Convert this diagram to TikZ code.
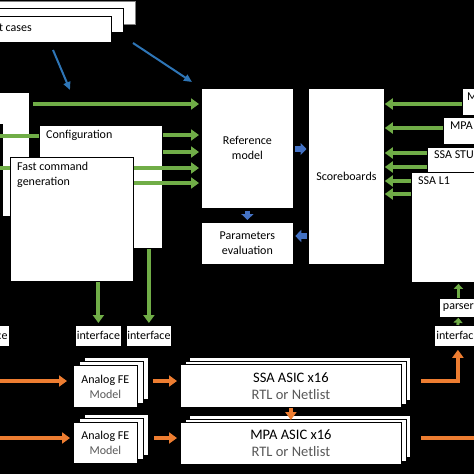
\documentclass[tikz,border=0pt]{standalone}
\usepackage{fontspec}
\setmainfont{Carlito}
\usetikzlibrary{arrows.meta}
\definecolor{cg}{RGB}{112,173,71}
\definecolor{co}{RGB}{237,125,49}
\definecolor{cb}{RGB}{68,114,196}
\definecolor{ct}{RGB}{46,117,182}
\definecolor{tg}{RGB}{89,89,89}

\begin{document}
\begin{tikzpicture}[
    x=1pt, y=-1pt,
    every node/.style={
        font=\fontsize{12}{15}\selectfont
    },
    box/.style={
        draw=black, fill=white, line width=0.8pt,
        anchor=north west, inner sep=0
    },
    lbl/.style={
        anchor=north west, inner sep=0, align=left,
        xshift=7pt, yshift=-5pt
    },
    iface/.style={
        box, minimum height=21pt
    },
    asic/.style={
        box, align=center, font=\fontsize{14.5}{17}\selectfont
    },
    gl/.style={draw=cg, line width=4pt},
    ga/.style={
        gl, -{Triangle[length=8pt,width=11pt]}
    },
    gs/.style={
        draw=cg, line width=3pt,
        -{Triangle[length=5pt,width=9pt]}
    },
    ol/.style={draw=co, line width=4pt},
    oa/.style={
        ol, -{Triangle[length=8pt,width=11pt]}
    },
    ba/.style={
        draw=cb, line width=5.5pt,
        -{Triangle[length=6pt,width=12pt]}
    },
    bt/.style={
        draw=ct, line width=2pt,
        -{Triangle[length=8pt,width=7pt]}
    }
]
    \useasboundingbox (0,0) rectangle (474,474);
    \clip (0,0) rectangle (474,474);
    \fill[black] (0,0) rectangle (474,474);

    % test cases
    \node (tc3) [box, draw=gray, minimum width=195pt, minimum height=23pt] at (-60,1) {};
    \node (tc2) [box, minimum width=183pt, minimum height=24pt] at (-60,8) {};
    \node (tc) [box, minimum width=171pt, minimum height=26pt] at (-60,16) {};
    \node (tctext) [inner sep=0, anchor=west] at (-16.5,28) {Test cases};

    % stimulus side
    \node (lb) [box, minimum width=89pt, minimum height=124pt] at (-60,92) {};
    \node (lb2) [box, line width=3pt, minimum width=60pt, minimum height=124pt] at (-60,124) {};
    \node (conf) [box, minimum width=123pt, minimum height=123pt,
        label={[lbl]north west:Configuration}] at (39,125) {};
    \node (fast) [box, minimum width=123pt, minimum height=124pt,
        label={[lbl]north west:Fast command\\generation}] at (10,157) {};

    % checking
    \node (ref) [box, minimum width=92pt, minimum height=120pt, align=center] at (201,88) {Reference\\model};
    \node (pe) [box, minimum width=92pt, minimum height=42pt, align=center] at (201,222) {Parameters\\evaluation};
    \node (sb) [box, minimum width=76pt, minimum height=176pt] at (308,88) {Scoreboards};

    % monitors
    \node (mpal1) [box, minimum width=70pt, minimum height=27pt,
        label={[lbl, xshift=-2pt]north west:MPA L1}] at (462,88) {};
    \node (mpastub) [box, minimum width=87pt, minimum height=27pt,
        label={[lbl]north west:MPA STUB}] at (443,117) {};
    \node (ssastub) [box, minimum width=103pt, minimum height=40pt,
        label={[lbl, yshift=1pt]north west:SSA STUB}] at (427,147) {};
    \node (ssal1) [box, minimum width=119pt, minimum height=110pt,
        label={[lbl]north west:SSA L1}] at (411,172) {};
    \node (parser) [box, minimum width=38pt, minimum height=19pt] at (439,298) {parser};

    % interfaces
    \node (ifl) [iface, minimum width=47pt] at (-38,325) {interface};
    \node (iffast) [iface, minimum width=46pt] at (75,325) {interface};
    \node (ifconf) [iface, minimum width=45pt] at (126,325) {interface};
    \node (ifr) [iface, minimum width=47pt] at (434,325) {interface};

    % DUT stacks
    \foreach \s in {2,1} {
        \node (fea\s) [box, minimum width=64pt, minimum height=42pt] at ({73+5.5*\s},{365-4*\s}) {};
        \node (feb\s) [box, minimum width=64pt, minimum height=41pt] at ({73+5.5*\s},{422-4*\s}) {};
        \node (ssa\s) [box, minimum width=221pt, minimum height=43pt] at ({180+4.5*\s},{364-3.5*\s}) {};
        \node (mpa\s) [box, minimum width=221pt, minimum height=42pt] at ({180+4.5*\s},{422-3.5*\s}) {};
    }
    \node (fea) [box, minimum width=64pt, minimum height=42pt, align=center] at (73,365)
        {Analog FE\\{\color{tg}Model}};
    \node (feb) [box, minimum width=64pt, minimum height=41pt, align=center] at (73,422)
        {Analog FE\\{\color{tg}Model}};
    \node (ssa) [asic, minimum width=221pt, minimum height=43pt] at (180,364)
        {SSA ASIC x16\\{\color{tg}RTL or Netlist}};
    \node (mpa) [asic, minimum width=221pt, minimum height=42pt] at (180,422)
        {MPA ASIC x16\\{\color{tg}RTL or Netlist}};

    % green paths
    \coordinate (in1) at (-5,136);
    \coordinate (in2) at (-5,168);
    \draw[gl] (in1) -- (in1 -| conf.west);
    \draw[gl] (in2) -- (in2 -| fast.west);
    \draw[ga, shorten <=3pt, shorten >=2pt] (lb.east |- 0,104) -- (ref.west |- 0,104);
    \foreach \y in {135,152}
        \draw[ga, shorten >=2pt] (conf.east |- 0,\y) -- (ref.west |- 0,\y);
    \foreach \y in {168,183}
        \draw[ga, shorten >=2pt] (fast.east |- 0,\y) -- (ref.west |- 0,\y);
    \draw[ga, shorten >=2pt] (iffast.north |- fast.south) -- (iffast.north);
    \draw[ga, shorten >=2pt] (ifconf.north |- conf.south) -- (ifconf.north);

    \draw[ga] (mpal1.west |- 0,104) -- (sb.east |- 0,104);
    \draw[ga] (mpastub.west |- 0,128) -- (sb.east |- 0,128);
    \foreach \y in {153,167}
        \draw[ga] (ssastub.west |- 0,\y) -- (sb.east |- 0,\y);
    \foreach \y in {181,194}
        \draw[ga] (ssal1.west |- 0,\y) -- (sb.east |- 0,\y);
    \draw[gs, shorten >=1pt] (parser.north) -- (parser.north |- ssal1.south);
    \draw[gs] (ifr.north) -- (parser.south);

    % blue paths
    \draw[ba, shorten <=1.5pt, shorten >=1.5pt] (ref.east |- 0,149) -- (sb.west |- 0,149);
    \draw[ba, shorten <=2pt, shorten >=2pt] (ref.south) -- (pe.north);
    \draw[ba, shorten <=1.5pt, shorten >=1.5pt] (sb.west |- 0,236) -- (pe.east |- 0,236);

    \coordinate (t1) at (53,50);
    \coordinate (t1e) at (70,90);
    \coordinate (t2) at (133,43);
    \coordinate (t2e) at (192,82);
    \draw[bt] (t1) -- (t1e);
    \draw[bt] (t2) -- (t2e);

    % orange paths
    \coordinate (rowa) at (-5,381);
    \coordinate (rowb) at (-5,438);
    \coordinate (outb) at (480,438);
    \draw[oa, shorten >=6pt] (rowa) -- (rowa -| fea.west);
    \draw[oa, shorten >=3pt] (rowb) -- (rowb -| feb.west);
    \draw[oa, shorten <=4pt, shorten >=3pt] (rowa -| fea2.east) -- (rowa -| ssa.west);
    \draw[oa, shorten <=5pt, shorten >=3pt] (rowb -| feb2.east) -- (rowb -| mpa.west);
    \draw[oa, shorten >=2pt] (ssa.south) -- (mpa.north);
    \draw[oa, shorten <=10pt, shorten >=3pt] (rowa -| ssa2.east) -| (ifr.south);
    \draw[ol, shorten <=10pt] (rowb -| mpa2.east) -- (outb);

\end{tikzpicture}
\end{document}
